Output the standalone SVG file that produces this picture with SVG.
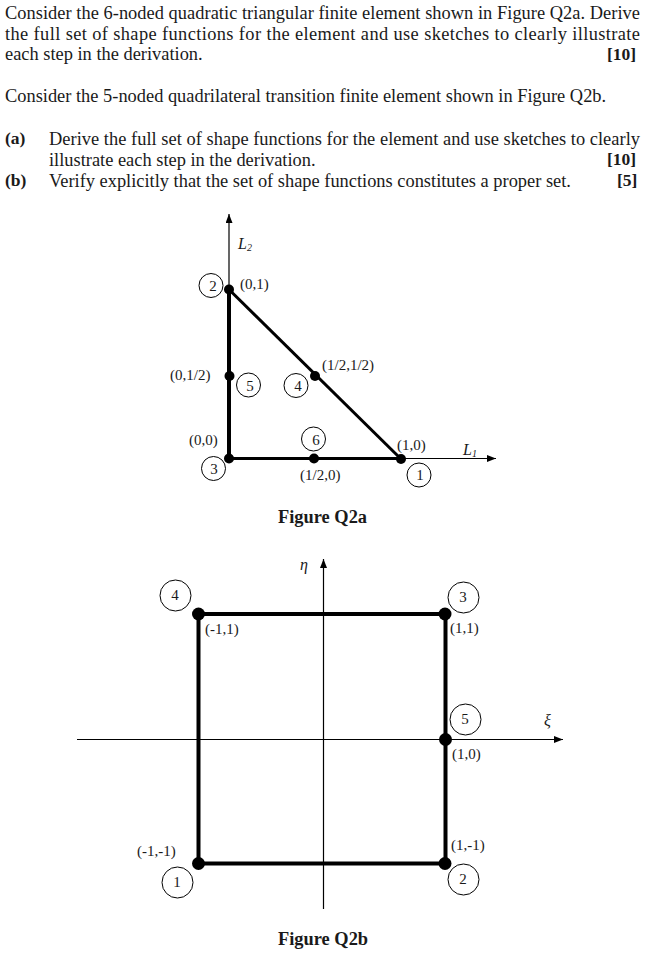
<svg xmlns="http://www.w3.org/2000/svg" width="645" height="954" viewBox="0 0 645 954">
<style>
text{font-family:"Liberation Serif","Times New Roman",serif;fill:#1a1a1a}
.b{font-size:18.400px}
.bb{font-size:17.500px;font-weight:bold}
.f{font-size:18.400px;font-weight:bold}
.l{font-size:15px}
.n{font-size:15px;text-anchor:middle}
.i{font-size:16px;font-style:italic}
.c2{fill:none;stroke:#000;stroke-width:1}
.d{fill:#000}
.ax{stroke:#000;stroke-width:1.2;fill:none}
.t{stroke:#000;stroke-width:3;fill:none}
.t2{stroke:#000;stroke-width:4;fill:none}
</style>
<defs><marker id="ah" markerWidth="10" markerHeight="8" refX="9" refY="3.5" orient="auto" markerUnits="userSpaceOnUse"><path d="M0 0L9 3.5L0 7Z" fill="#000"/></marker></defs>
<g id="question-text">
<text class="b" x="5" y="19" textLength="635" lengthAdjust="spacing">Consider the 6-noded quadratic triangular finite element shown in Figure Q2a. Derive</text>
<text class="b" x="5" y="40" textLength="635" lengthAdjust="spacing">the full set of shape functions for the element and use sketches to clearly illustrate</text>
<text class="b" x="5" y="60">each step in the derivation.</text>
<text class="bb" x="607" y="60">[10]</text>
<text class="b" x="5" y="102">Consider the 5-noded quadrilateral transition finite element shown in Figure Q2b.</text>
<text class="bb" x="5" y="144">(a)</text>
<text class="b" x="49" y="145" textLength="591" lengthAdjust="spacing">Derive the full set of shape functions for the element and use sketches to clearly</text>
<text class="b" x="49" y="166">illustrate each step in the derivation.</text>
<text class="bb" x="607" y="165">[10]</text>
<text class="bb" x="5" y="186">(b)</text>
<text class="b" x="49" y="187">Verify explicitly that the set of shape functions constitutes a proper set.</text>
<text class="bb" x="617" y="186">[5]</text>
</g>
<g id="connectors-q2a">
<path class="ax" d="M229 458V214" marker-end="url(#ah)"/>
<path class="ax" d="M229 458.500H496" marker-end="url(#ah)"/>
<path class="t2" d="M229 289.500V458.500"/>
<path class="t" d="M229 289.500L401 459"/>
<path class="t" d="M229 458.500H401"/>
</g>
<g id="q2a-axis-labels">
<text class="i" x="238" y="249">L<tspan font-size="10" dy="2">2</tspan></text>
<text class="i" x="463" y="455">L<tspan font-size="10" dy="2">1</tspan></text>
</g>
<g id="q2a-node1"><circle class="d" cx="401" cy="459" r="5"/><circle class="c2" cx="419" cy="475" r="12"/><text class="n" x="420" y="480">1</text><text class="l" x="397" y="450">(1,0)</text></g>
<g id="q2a-node2"><circle class="d" cx="229" cy="289.500" r="5"/><circle class="c2" cx="211" cy="285.500" r="12"/><text class="n" x="213" y="291">2</text><text class="l" x="240" y="289">(0,1)</text></g>
<g id="q2a-node3"><circle class="d" cx="229" cy="458.500" r="5"/><circle class="c2" cx="213.500" cy="468.500" r="12"/><text class="n" x="214" y="474">3</text><text class="l" x="189" y="445">(0,0)</text></g>
<g id="q2a-node4"><circle class="d" cx="315" cy="376" r="5"/><circle class="c2" cx="296" cy="385.500" r="12"/><text class="n" x="298" y="391">4</text><text class="l" x="322" y="370">(1/2,1/2)</text></g>
<g id="q2a-node5"><circle class="d" cx="229.500" cy="376" r="5"/><circle class="c2" cx="248.500" cy="385" r="12"/><text class="n" x="250" y="391">5</text><text class="l" x="170" y="380">(0,1/2)</text></g>
<g id="q2a-node6"><circle class="d" cx="314" cy="458.500" r="5"/><circle class="c2" cx="313.500" cy="439" r="12"/><text class="n" x="316" y="445">6</text><text class="l" x="300" y="480">(1/2,0)</text></g>
<text class="f" x="278" y="523">Figure Q2a</text>
<g id="connectors-q2b">
<path class="ax" d="M323.500 909V559" marker-end="url(#ah)"/>
<path class="ax" d="M77 739.500H563" marker-end="url(#ah)"/>
<path class="t2" d="M198.500 614H445.500V863.500H198.500Z"/>
</g>
<g id="q2b-axis-labels">
<text class="i" x="300" y="570">η</text>
<text class="i" x="544" y="726">ξ</text>
</g>
<g id="q2b-node1"><circle class="d" cx="198.500" cy="863.500" r="6.500"/><circle class="c2" cx="177.500" cy="882.500" r="15.500"/><text class="n" x="177" y="887">1</text><text class="l" x="137" y="856">(-1,-1)</text></g>
<g id="q2b-node2"><circle class="d" cx="445" cy="863.500" r="6.500"/><circle class="c2" cx="463.500" cy="879.500" r="15.500"/><text class="n" x="463" y="884">2</text><text class="l" x="451" y="850">(1,-1)</text></g>
<g id="q2b-node3"><circle class="d" cx="445" cy="614" r="6.500"/><circle class="c2" cx="463.500" cy="597.500" r="15.500"/><text class="n" x="463" y="602">3</text><text class="l" x="450" y="633">(1,1)</text></g>
<g id="q2b-node4"><circle class="d" cx="198.500" cy="614" r="6.500"/><circle class="c2" cx="175.500" cy="595.500" r="15.500"/><text class="n" x="175" y="600">4</text><text class="l" x="205" y="634">(-1,1)</text></g>
<g id="q2b-node5"><circle class="d" cx="445.500" cy="739.500" r="6.500"/><circle class="c2" cx="465.500" cy="719.500" r="15.500"/><text class="n" x="465" y="724">5</text><text class="l" x="452" y="759">(1,0)</text></g>
<text class="f" x="278" y="945">Figure Q2b</text>
</svg>
